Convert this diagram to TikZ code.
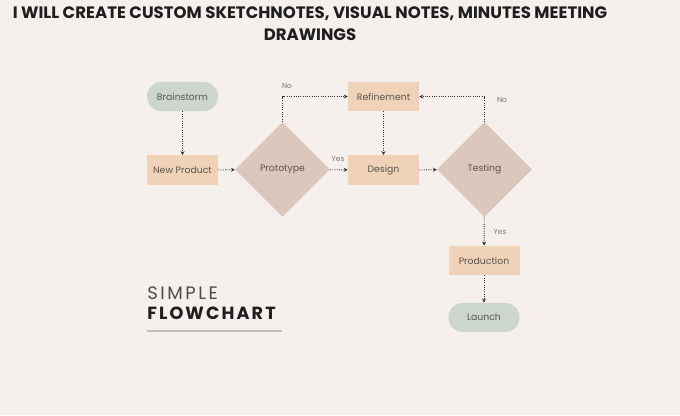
\documentclass[tikz,border=0pt]{standalone}
\usepackage{fontspec}
\setmainfont{Poppins}
\usetikzlibrary{shapes.geometric,arrows.meta}
\definecolor{bg}{HTML}{F5F0EB}
\definecolor{peach}{HTML}{F0D2B8}
\definecolor{mauve}{HTML}{DCC7BD}
\definecolor{sage}{HTML}{CDD6CC}
\definecolor{txt}{HTML}{5A5550}
\definecolor{ttl}{HTML}{1E1E1E}
\tikzset{
  box/.style={fill=peach,draw=none,minimum width=53.25pt,minimum height=22pt,inner sep=0pt,font=\fontsize{7}{8}\selectfont,text=txt},
  pill/.style={box,fill=sage,rounded corners=11pt},
  dia/.style={diamond,fill=mauve,draw=none,minimum width=71.25pt,minimum height=71.25pt,inner sep=0pt,aspect=1,font=\fontsize{7}{8}\selectfont,text=txt},
  conn/.style={densely dotted,line width=0.7pt,draw=black!80,-{Stealth[length=3pt,width=3pt]}},
  lbl/.style={font=\fontsize{5.5}{6}\selectfont,text=txt!80}
}
\begin{document}
\begin{tikzpicture}[x=0.75pt,y=-0.75pt]
\fill[bg] (0,0) rectangle (680,415);
\useasboundingbox (0,0) rectangle (680,415);
\node[font=\bfseries\fontsize{12.4}{14}\selectfont,text=ttl] (t1) at (310,14) {I WILL CREATE CUSTOM SKETCHNOTES, VISUAL NOTES, MINUTES MEETING};
\node[font=\bfseries\fontsize{12.4}{14}\selectfont,text=ttl] (t2) at (310,35) {DRAWINGS};
\node[pill] (brain) at (182.5,96.5) {Brainstorm};
\node[box] (newp) at (182.5,170) {New Product};
\node[dia] (proto) at (282.5,169.5) {Prototype};
\node[box] (refi) at (383.5,96.5) {Refinement};
\node[box] (design) at (383.5,170) {Design};
\node[dia] (test) at (484.5,169.5) {Testing};
\node[box] (prod) at (484,260.5) {Production};
\node[pill] (launch) at (484,317.5) {Launch};
\draw[conn] (brain) -- (newp);
\draw[conn] (newp) -- (proto);
\draw[conn] (proto.north) |- (refi.west);
\draw[conn] (proto) -- (design);
\draw[conn] (refi) -- (design);
\draw[conn] (design) -- (test);
\draw[conn] (test.north) |- (refi.east);
\draw[conn] (test) -- (prod);
\draw[conn] (prod) -- (launch);
\node[lbl] (no1) at (287,86) {No};
\node[lbl] (yes1) at (338,159) {Yes};
\node[lbl] (no2) at (502,100) {No};
\node[lbl] (yes2) at (500,232) {Yes};
\node[anchor=base west,inner sep=0pt,font=\fontsize{13.5}{15}\selectfont\addfontfeatures{LetterSpace=14},text=ttl!80] (s1) at (147,299) {SIMPLE};
\node[anchor=base west,inner sep=0pt,font=\bfseries\fontsize{13.2}{15}\selectfont\addfontfeatures{LetterSpace=12},text=ttl] (s2) at (147,319) {FLOWCHART};
\draw[line width=1pt,draw=black!25] (147,331) -- (282,331);
\end{tikzpicture}
\end{document}
